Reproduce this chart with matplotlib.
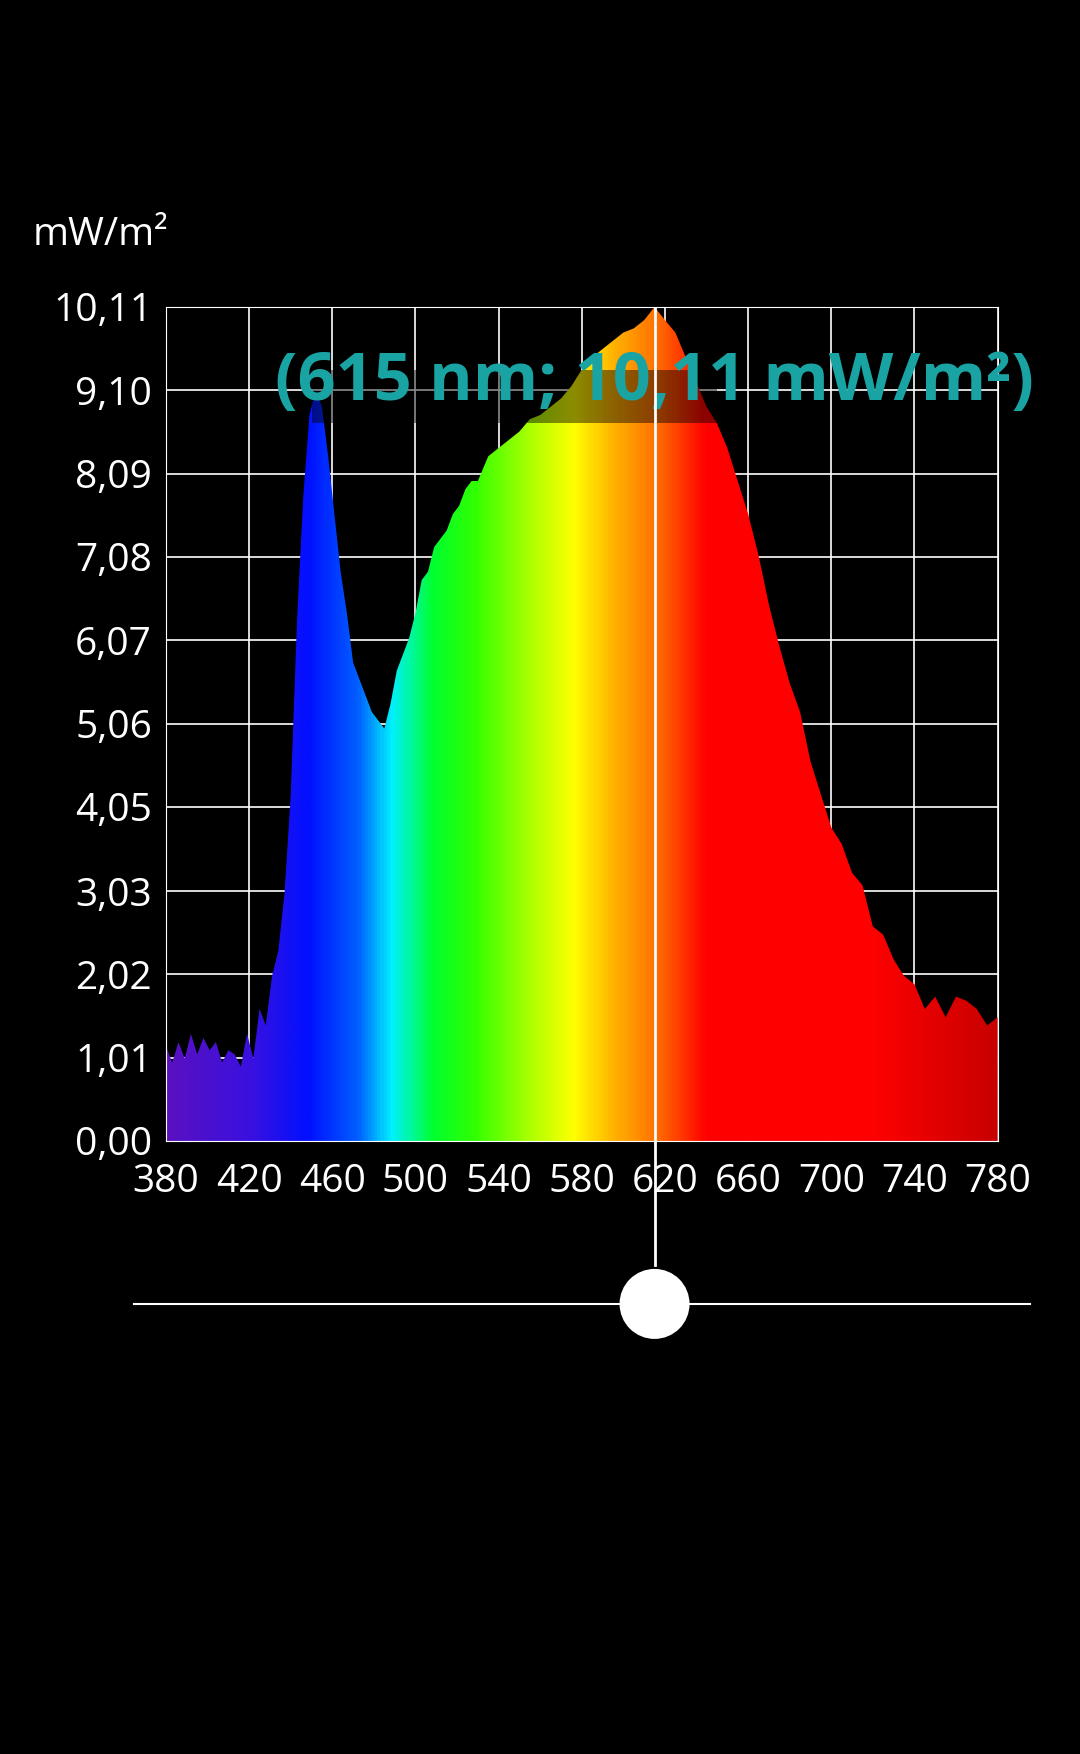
import numpy as np
import matplotlib
matplotlib.use("Agg")
import matplotlib.pyplot as plt
from matplotlib.colors import LinearSegmentedColormap
from matplotlib.patches import PathPatch, Circle
from matplotlib.lines import Line2D
from matplotlib.path import Path

wavelengths = [380,383,386,389,392,395,398,401,404,407,410,413,416,419,422,425,428,431,434,437,440,443,446,449,452,455,458,461,464,467,470,473,476,479,482,485,488,491,494,497,500,503,506,509,512,515,518,521,524,527,530,535,540,545,550,555,560,565,570,575,580,585,590,595,600,605,610,615,620,625,630,635,640,645,650,655,660,665,670,675,680,685,690,695,700,705,710,715,720,725,730,735,740,745,750,755,760,765,770,775,780]
irradiance = [1.15,0.95,1.2,1.0,1.3,1.05,1.25,1.1,1.2,0.95,1.1,1.05,0.9,1.3,1.0,1.6,1.4,2.0,2.3,3.0,4.2,6.3,7.8,8.8,9.1,8.9,8.3,7.6,6.9,6.4,5.8,5.6,5.4,5.2,5.1,5.0,5.3,5.7,5.9,6.1,6.4,6.8,6.9,7.2,7.3,7.4,7.6,7.7,7.9,8.0,8.0,8.3,8.4,8.5,8.6,8.75,8.8,8.9,9.0,9.15,9.35,9.5,9.6,9.7,9.8,9.85,9.95,10.11,9.95,9.8,9.5,9.2,8.9,8.7,8.4,8.0,7.6,7.1,6.5,6.0,5.55,5.2,4.6,4.2,3.8,3.6,3.25,3.1,2.6,2.5,2.2,2.0,1.9,1.6,1.75,1.5,1.75,1.7,1.6,1.4,1.5]

xticks = [380,420,460,500,540,580,620,660,700,740,780]
yticks = [0.00,1.01,2.02,3.03,4.05,5.06,6.07,7.08,8.09,9.10,10.11]
ylabels = ["0,00","1,01","2,02","3,03","4,05","5,06","6,07","7,08","8,09","9,10","10,11"]
sel_wl, sel_val = 615, 10.11

plt.rcParams['font.family'] = ['Open Sans', 'DejaVu Sans']
fig = plt.figure(figsize=(10.8, 17.54), dpi=100, facecolor='black')
ax = fig.add_axes([0.1537, 0.3495, 0.770, 0.4755], facecolor='black')
ax.set_xlim(380, 780)
ax.set_ylim(0, 10.11)

spec = LinearSegmentedColormap.from_list("spec", [
    (0.0, "#5a10c0"), (0.1, "#3a10e0"), (0.17, "#0010ff"), (0.23, "#0060ff"),
    (0.27, "#00f0ff"), (0.32, "#00ff30"), (0.37, "#30ff00"), (0.44, "#b0ff00"),
    (0.49, "#ffff00"), (0.54, "#ffb000"), (0.59, "#ff7000"), (0.65, "#ff0000"),
    (0.85, "#ff0000"), (1.0, "#c80000")])
grad = np.linspace(0, 1, 800).reshape(1, -1)
im = ax.imshow(grad, cmap=spec, extent=[380, 780, 0, 10.11], aspect='auto', zorder=2)
verts = [(wavelengths[0], 0)] + list(zip(wavelengths, irradiance)) + [(wavelengths[-1], 0), (wavelengths[0], 0)]
patch = PathPatch(Path(verts), transform=ax.transData, facecolor='none', edgecolor='none')
ax.add_patch(patch)
im.set_clip_path(patch)

for t in xticks:
    ax.axvline(t, color='white', lw=1.2, zorder=1)
for t in yticks:
    ax.axhline(t, color='white', lw=1.2, zorder=1)
for s in ax.spines.values():
    s.set_color('white')
ax.set_xticks(xticks)
ax.set_xticklabels([str(t) for t in xticks])
ax.set_yticks(yticks)
ax.set_yticklabels(ylabels)
ax.tick_params(colors='white', labelsize=28, length=0)
ax.tick_params(axis='x', pad=16)
ax.tick_params(axis='y', pad=10)

ax.fill_between([450, 645], 8.7, 9.35, color='black', alpha=0.45, zorder=3, lw=0)
ax.text(sel_wl, 9.2, "(615 nm; 10,11 mW/m²)", color='#1aa3a3', fontsize=48,
        fontweight='bold', ha='center', va='center', zorder=4)

fig.text(0.03, 0.866, "mW/m²", color='white', fontsize=28, va='center')

# selection line and slider
ax.plot([sel_wl, sel_wl], [0, sel_val], color='white', lw=2, zorder=5)
xf = 0.1537 + (sel_wl - 380) / 400 * 0.770
fig.add_artist(Line2D([xf, xf], [0.3495, 0.279], color='white', lw=2, transform=fig.transFigure))
fig.add_artist(Line2D([0.124, 0.954], [0.2566, 0.2566], color='white', lw=1.5, transform=fig.transFigure))
fig.add_artist(Circle((xf * 10.8, 0.2566 * 17.54), 0.35, transform=fig.dpi_scale_trans,
                      facecolor='white', edgecolor='none'))

fig.savefig("out.png", dpi=100, facecolor='black')
